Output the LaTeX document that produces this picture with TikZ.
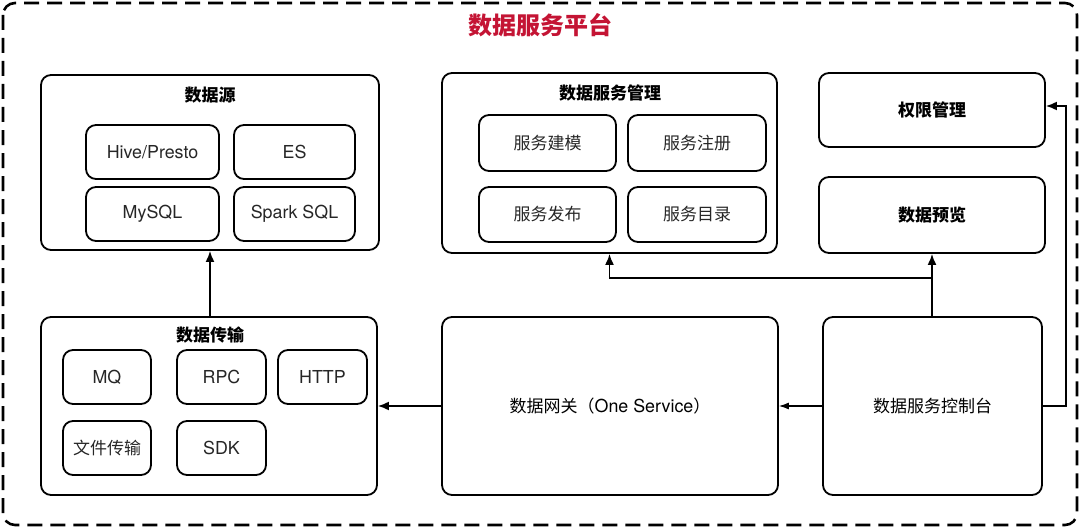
\documentclass[tikz,border=0pt]{standalone}
\usepackage{fontspec}
\setmainfont{TeX Gyre Heros}[Scale=1.05]
\newfontfamily\cjk{Noto Sans CJK SC}
\usepackage{tikz}
\usetikzlibrary{arrows.meta,positioning}
\definecolor{titlered}{RGB}{196,20,52}
\tikzset{grp/.style={draw,line width=1.8pt,rounded corners=10pt,inner sep=0pt},
  itm/.style={draw,line width=1.8pt,rounded corners=10pt,inner sep=0pt,text=black!85,font=\fontsize{17}{20}\selectfont},
  hdr/.style={inner sep=0pt,font=\fontsize{17}{20}\selectfont\bfseries\cjk},
  arr/.style={-{Latex[length=11pt,width=9pt]},line width=1.8pt}}

\begin{document}
\begin{tikzpicture}[x=1pt,y=-1pt]
\useasboundingbox (0,0) rectangle (1080,527);
% \draw[help lines,step=50] (0,0) grid (1080,527);
\draw[line width=2.6pt,dash pattern=on 15pt off 8pt,rounded corners=12pt] (3,3) rectangle (1077,525);
\node (title) [inner sep=0pt,text=titlered,font=\fontsize{24}{28}\selectfont\bfseries\cjk] at (540,25) {数据服务平台};
%
\node (src) [grp,minimum width=338pt,minimum height=175pt] at (210,162.5) {};
\node (srct) [hdr] at (210,95) {数据源};
\node (hive) [itm,minimum width=133pt,minimum height=54pt] at (152.5,152) {Hive/Presto};
\node (es) [itm,minimum width=121pt,minimum height=54pt] at (294.5,152) {ES};
\node (mysql) [itm,minimum width=133pt,minimum height=54pt] at (152.5,214) {MySQL};
\node (spark) [itm,minimum width=121pt,minimum height=54pt] at (294.5,214) {Spark SQL};
%
\node (mgmt) [grp,minimum width=335pt,minimum height=180pt] at (609.5,163) {};
\node (mgmtt) [hdr] at (610,93) {数据服务管理};
\node (model) [itm,minimum width=137pt,minimum height=56pt] at (547.5,143) {\cjk 服务建模};
\node (reg) [itm,minimum width=138pt,minimum height=56pt] at (697,143) {\cjk 服务注册};
\node (pub) [itm,minimum width=137pt,minimum height=55pt] at (547.5,214.5) {\cjk 服务发布};
\node (cat) [itm,minimum width=138pt,minimum height=55pt] at (697,214.5) {\cjk 服务目录};
%
\node (auth) [grp,hdr,minimum width=226pt,minimum height=74pt] at (932,110) {权限管理};
\node (prev) [grp,hdr,minimum width=226pt,minimum height=76pt] at (932,215) {数据预览};
%
\node (trans) [grp,minimum width=336pt,minimum height=178pt] at (209,406) {};
\node (transt) [hdr] at (210,335) {数据传输};
\node (mq) [itm,minimum width=88pt,minimum height=54pt] at (107,377) {MQ};
\node (rpc) [itm,minimum width=89pt,minimum height=54pt] at (221.5,377) {RPC};
\node (http) [itm,minimum width=89pt,minimum height=54pt] at (322.5,377) {HTTP};
\node (file) [itm,minimum width=88pt,minimum height=54pt] at (107,448) {\cjk 文件传输};
\node (sdk) [itm,minimum width=89pt,minimum height=54pt] at (221.5,448) {SDK};
%
\node (gw) [grp,minimum width=336pt,minimum height=178pt,font=\fontsize{17}{20}\selectfont] at (610,406) {{\cjk 数据网关（}One Service{\cjk ）}};
\node (con) [grp,minimum width=219pt,minimum height=178pt,font=\fontsize{17}{20}\selectfont\cjk] at (932.5,406) {数据服务控制台};
%
\coordinate (j) at (932,278);
\coordinate (k) at (1066,106);
\draw[arr] (trans.north -| src.south) -- (src.south);
\draw[arr] (gw.west) -- (trans.east |- gw.west);
\draw[-{Latex[length=10pt,width=7pt]},line width=1.1pt] (con.west) -- (gw.east);
\draw[arr] (con.north -| prev.south) -- (prev.south);
\draw[arr] (j) -| (mgmt.south);
\draw[arr] (con.east) -| (k) -- (auth.east |- k);
\end{tikzpicture}
\end{document}
